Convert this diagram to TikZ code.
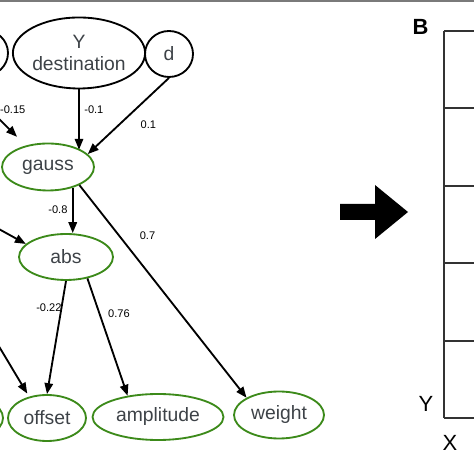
\documentclass[tikz,border=0pt]{standalone}
\usepackage{fontspec}
\setmainfont{Liberation Sans}
\usepackage{tikz}
\usetikzlibrary{arrows.meta,shapes.geometric}
\definecolor{cGreen}{HTML}{3C8A1A}
\definecolor{cText}{HTML}{3D4247}
\definecolor{cBar}{HTML}{7A7A7A}
\definecolor{cGrid}{HTML}{333333}
\tikzset{
  vnode/.style={draw=#1,ellipse,line width=1.05pt,inner sep=0pt,align=center,text=cText,font=\fontsize{11}{12.2}\selectfont},
  vnode/.default=black,
  arr/.style={-{Triangle[length=6.2pt,width=4.8pt]},line width=1.05pt,color=black},
  lbl/.style={font=\fontsize{6.3}{7}\selectfont,text=black,inner sep=1pt},
  panel/.style={font=\fontsize{12.5}{14}\selectfont,text=black,inner sep=0pt},
  gridln/.style={draw=cGrid,line width=1.05pt},
}
\begin{document}
\begin{tikzpicture}[x=2cm,y=2cm]
  \useasboundingbox (0,0) rectangle (4.74,4.74);
  \clip (0,0) rectangle (4.74,4.74);
  \fill[cBar] (0,4.715) rectangle (4.74,4.74);
  % inputs
  \node[vnode,minimum width=0.96cm,minimum height=0.92cm] (topL) at (-0.16,4.21) {};
  \node[vnode,minimum width=2.30cm,minimum height=1.42cm] (dest) at (0.79,4.21) {Y\\destination};
  \node[vnode,minimum width=0.96cm,minimum height=0.92cm] (d) at (1.69,4.20) {d};
  % functions and outputs
  \node[vnode=cGreen,minimum width=1.84cm,minimum height=0.94cm] (gauss) at (0.48,3.07) {gauss};
  \node[vnode=cGreen,minimum width=1.88cm,minimum height=0.92cm] (abs) at (0.66,2.17) {abs};
  \node[vnode=cGreen,minimum width=1.72cm,minimum height=0.92cm] (botL) at (-0.40,0.56) {};
  \node[vnode=cGreen,minimum width=1.56cm,minimum height=0.92cm] (offset) at (0.47,0.56) {offset};
  \node[vnode=cGreen,minimum width=2.62cm,minimum height=0.92cm] (ampl) at (1.58,0.57) {amplitude};
  \node[vnode=cGreen,minimum width=1.80cm,minimum height=0.94cm] (weight) at (2.79,0.59) {weight};
  \coordinate (srcA) at (-0.30,3.84);
  \coordinate (srcB) at (-0.30,2.61);
  \coordinate (srcC) at (-0.30,1.76);
  % weighted edges
  \draw[arr,shorten >=7pt] (srcA) -- node[lbl,pos=0.35,anchor=west,xshift=4.5pt] {-0.15} (gauss.136);
  \draw[arr] (dest.south) -- node[lbl,pos=0.34,anchor=west,xshift=1.5pt] {-0.1} (dest.south |- gauss.north east);
  \draw[arr] (d.south) -- node[lbl,pos=0.62,anchor=west,xshift=11pt] {0.1} (gauss.18);
  \draw[arr] (gauss.-40) -- node[lbl,pos=0.49,anchor=east,xshift=-1.5pt] {-0.8} (gauss.-40 |- abs.north);
  \draw[arr] (gauss.-30) -- node[lbl,pos=0.24,anchor=west,xshift=10pt] {0.7} (weight.north west);
  \draw[arr] (srcB) -- (abs.162);
  \draw[arr] (abs.south) -- node[lbl,pos=0.235,anchor=east,xshift=1.5pt] {-0.22} (offset.north);
  \draw[arr] (abs.-45) -- node[lbl,pos=0.30,anchor=west,xshift=3.4pt] {0.76} (ampl.145);
  \draw[arr,shorten >=2pt] (srcC) -- (offset.130);
  % panel B
  \fill[black] (3.40,2.70) -- (3.75,2.70) -- (3.75,2.89) -- (4.08,2.62) -- (3.75,2.35) -- (3.75,2.54) -- (3.40,2.54) -- cycle;
  \node[panel,font=\fontsize{12.5}{14}\selectfont\bfseries] (lblB) at (4.205,4.475) {B};
  \draw[gridln] (4.44,4.43) -- (4.44,0.56);
  \foreach \i in {0,...,5}{\draw[gridln] (4.44,0.56+\i*0.774) -- (4.80,0.56+\i*0.774);}
  \node[panel] (axY) at (4.26,0.70) {Y};
  \node[panel] (axX) at (4.50,0.31) {X};
\end{tikzpicture}
\end{document}
